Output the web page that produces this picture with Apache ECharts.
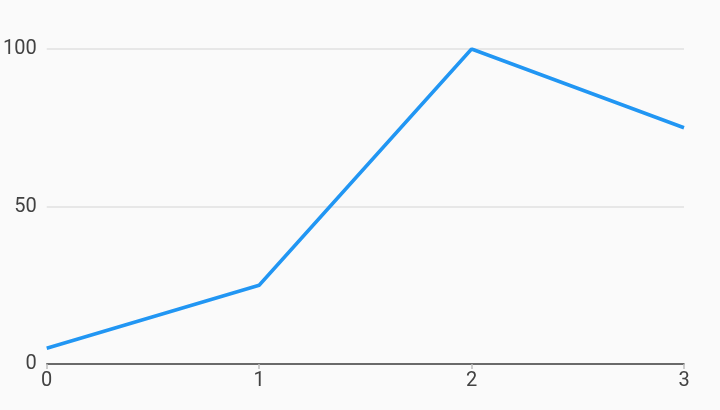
<!DOCTYPE html>
<html><head><meta charset="utf-8">
<script src="https://cdn.jsdelivr.net/npm/echarts@6/dist/echarts.min.js"></script>
<style>html,body{margin:0;padding:0;background:#fafafa;}#c{width:720px;height:410px;}</style>
</head><body><div id="c"></div>
<script>
const categories = ['0', '1', '2', '3'];
const values = [5, 25, 100, 75];
const yTicks = [0, 50, 100];

const chart = echarts.init(document.getElementById('c'));
chart.setOption({
  backgroundColor: '#fafafa',
  animation: false,
  grid: { left: 45, right: 36, top: 49, bottom: 46, containLabel: false },
  xAxis: {
    type: 'category',
    data: categories,
    boundaryGap: false,
    axisLine: { lineStyle: { color: '#424242', width: 1.5 } },
    axisTick: { show: true, length: 5, alignWithLabel: true, lineStyle: { color: '#bdbdbd', width: 1.5 } },
    axisLabel: { color: '#424242', fontSize: 20, fontFamily: 'Roboto', margin: 7 },
    splitLine: { show: false }
  },
  yAxis: {
    type: 'value',
    min: yTicks[0],
    max: yTicks[yTicks.length - 1],
    interval: 50,
    axisLine: { show: false },
    axisTick: { show: false },
    axisLabel: { color: '#424242', fontSize: 20, fontFamily: 'Roboto', margin: 10 },
    splitLine: { lineStyle: { color: '#e0e0e0', width: 1.5 } }
  },
  series: [{
    type: 'line',
    data: values,
    symbol: 'none',
    lineStyle: { color: '#2196f3', width: 3.5 },
    itemStyle: { color: '#2196f3' }
  }]
});
</script></body></html>
